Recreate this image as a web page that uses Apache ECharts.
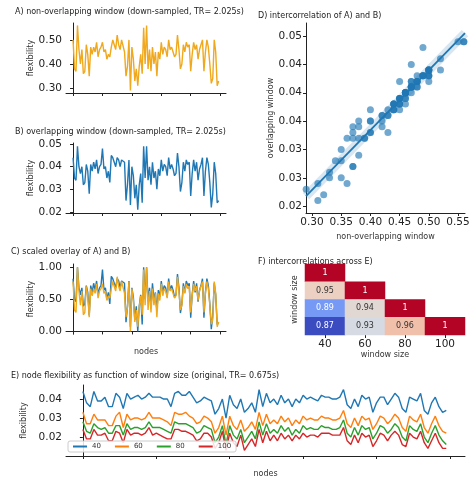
<!DOCTYPE html>
<html>
<head>
<meta charset="utf-8">
<script src="https://cdn.jsdelivr.net/npm/echarts@6/dist/echarts.min.js"></script>
<style>
  html, body { margin: 0; padding: 0; background: #fff; }
  #chart { width: 474px; height: 477px; }
</style>
</head>
<body>
<div id="chart"></div>
<script>
// panel A: non-overlapping window flexibility per node
const nonOverlap = [
  0.50,0.38,0.37,0.56,0.46,0.40,0.46,0.36,0.37,0.48,0.44,0.35,0.47,0.44,0.47,0.45,0.49,0.43,0.46,0.47,
  0.49,0.45,0.46,0.42,0.44,0.43,0.47,0.50,0.48,0.46,0.52,0.48,0.46,0.50,0.50,0.45,0.35,0.39,0.50,0.29,
  0.47,0.42,0.33,0.38,0.31,0.39,0.44,0.36,0.55,0.40,0.56,0.38,0.46,0.37,0.47,0.40,0.45,0.35,0.45,0.42,
  0.49,0.44,0.47,0.46,0.43,0.50,0.46,0.47,0.45,0.43,0.44,0.52,0.46,0.38,0.40,0.48,0.45,0.49,0.47,0.48,
  0.37,0.44,0.49,0.46,0.48,0.42,0.46,0.48,0.50,0.37,0.45,0.50,0.47,0.40,0.32,0.34,0.50,0.45,0.31,0.33
];
// panel B: overlapping window
const overlap = [
  0.044,0.035,0.034,0.049,0.040,0.037,0.040,0.032,0.033,0.041,0.038,0.028,0.041,0.038,0.042,0.039,0.043,0.037,0.040,0.041,
  0.048,0.039,0.040,0.035,0.038,0.033,0.045,0.044,0.042,0.040,0.044,0.043,0.040,0.043,0.043,0.042,0.025,0.032,0.043,0.023,
  0.040,0.036,0.026,0.032,0.021,0.032,0.037,0.024,0.049,0.035,0.049,0.034,0.040,0.032,0.042,0.035,0.038,0.030,0.039,0.036,
  0.043,0.038,0.041,0.040,0.036,0.044,0.039,0.041,0.039,0.036,0.037,0.046,0.040,0.029,0.033,0.042,0.038,0.043,0.041,0.042,
  0.027,0.037,0.043,0.038,0.042,0.034,0.039,0.041,0.044,0.027,0.038,0.044,0.041,0.033,0.022,0.028,0.042,0.037,0.024,0.025
];
// panel E: flexibility by window size
const win40 = [
  0.044,0.038,0.036,0.044,0.039,0.039,0.041,0.036,0.036,0.043,0.041,0.035,0.043,0.040,0.041,0.042,0.040,0.041,0.043,0.041,
  0.041,0.041,0.040,0.040,0.036,0.043,0.044,0.042,0.042,0.044,0.041,0.038,0.039,0.041,0.040,0.039,0.032,0.035,0.040,0.030,
  0.042,0.037,0.035,0.040,0.033,0.035,0.038,0.033,0.045,0.036,0.043,0.038,0.040,0.037,0.042,0.038,0.040,0.036,0.040,0.038,
  0.042,0.040,0.041,0.040,0.039,0.042,0.041,0.041,0.040,0.040,0.041,0.045,0.037,0.035,0.040,0.036,0.042,0.040,0.041,0.033,
  0.038,0.041,0.041,0.037,0.040,0.043,0.041,0.035,0.033,0.041,0.040,0.039,0.043,0.034,0.032,0.038,0.041,0.036,0.033,0.034
];
const win60 = [
  0.033,0.027,0.027,0.032,0.029,0.029,0.029,0.026,0.026,0.031,0.033,0.025,0.032,0.029,0.030,0.030,0.029,0.030,0.033,0.030,
  0.030,0.030,0.029,0.028,0.026,0.033,0.032,0.032,0.033,0.031,0.030,0.027,0.028,0.031,0.030,0.028,0.022,0.025,0.031,0.021,
  0.031,0.026,0.024,0.029,0.023,0.025,0.028,0.024,0.033,0.026,0.032,0.027,0.029,0.027,0.031,0.028,0.030,0.026,0.029,0.027,
  0.031,0.029,0.030,0.029,0.029,0.031,0.030,0.030,0.029,0.029,0.030,0.034,0.027,0.025,0.030,0.026,0.031,0.029,0.030,0.024,
  0.027,0.031,0.030,0.027,0.029,0.032,0.030,0.025,0.023,0.031,0.029,0.028,0.032,0.025,0.022,0.027,0.031,0.026,0.023,0.022
];
const win80 = [
  0.028,0.023,0.022,0.027,0.025,0.024,0.025,0.022,0.022,0.026,0.026,0.021,0.027,0.024,0.025,0.025,0.024,0.025,0.028,0.025,
  0.025,0.025,0.024,0.023,0.022,0.028,0.027,0.027,0.027,0.026,0.025,0.022,0.023,0.026,0.025,0.024,0.017,0.020,0.026,0.016,
  0.026,0.021,0.019,0.024,0.017,0.020,0.023,0.019,0.028,0.021,0.027,0.022,0.024,0.022,0.026,0.023,0.025,0.021,0.024,0.022,
  0.026,0.024,0.025,0.024,0.024,0.026,0.025,0.025,0.024,0.024,0.025,0.029,0.022,0.020,0.025,0.021,0.026,0.024,0.025,0.019,
  0.022,0.026,0.025,0.022,0.024,0.027,0.025,0.020,0.018,0.026,0.024,0.023,0.027,0.020,0.017,0.022,0.026,0.021,0.018,0.016
];
const win100 = [
  0.024,0.019,0.019,0.024,0.021,0.021,0.022,0.018,0.018,0.023,0.022,0.017,0.024,0.021,0.022,0.022,0.021,0.022,0.025,0.021,
  0.022,0.021,0.020,0.019,0.019,0.024,0.024,0.023,0.023,0.022,0.021,0.018,0.019,0.022,0.022,0.020,0.014,0.017,0.023,0.013,
  0.022,0.017,0.015,0.021,0.013,0.016,0.019,0.015,0.024,0.017,0.023,0.018,0.021,0.018,0.022,0.019,0.021,0.018,0.021,0.019,
  0.022,0.020,0.021,0.021,0.020,0.022,0.022,0.022,0.021,0.021,0.021,0.025,0.018,0.016,0.021,0.017,0.022,0.020,0.021,0.015,
  0.018,0.022,0.021,0.018,0.021,0.023,0.021,0.016,0.015,0.022,0.020,0.019,0.023,0.017,0.014,0.018,0.022,0.017,0.014,0.014
];
// panel F: correlation matrix (lower triangle)
const windowSizes = ['40', '60', '80', '100'];
const corrCells = [
  [0, 0, 1],
  [0, 1, 0.95], [1, 1, 1],
  [0, 2, 0.89], [1, 2, 0.94], [2, 2, 1],
  [0, 3, 0.87], [1, 3, 0.93], [2, 3, 0.96], [3, 3, 1]
];
// tick positions
const nodeTicks = [0, 20, 40, 60, 80, 100];
const ticksA = [0.30, 0.40, 0.50];
const ticksB = [0.02, 0.03, 0.04, 0.05];
const ticksC = [0, 0.5, 1];
const ticksDx = [0.30, 0.35, 0.40, 0.45, 0.50, 0.55];
const ticksDy = [0.02, 0.025, 0.03, 0.035, 0.04, 0.045, 0.05];
const labelsDy = ['0.02', '0.03', '0.03', '0.04', '0.04', '0.04', '0.05'];
const ticksE = [0.02, 0.03, 0.04];

const ORANGE = '#f0a81c', BLUE = '#1f77b4';
const FONT = 'DejaVu Sans';

const idx = arr => arr.map((v, i) => [i, v]);
const scale01 = arr => {
  const lo = Math.min(...arr), hi = Math.max(...arr);
  return arr.map(v => (v - lo) / (hi - lo));
};

// regression for panel D
const n = nonOverlap.length;
const mx = nonOverlap.reduce((a, b) => a + b) / n;
const my = overlap.reduce((a, b) => a + b) / n;
let sxy = 0, sxx = 0;
for (let i = 0; i < n; i++) { sxy += (nonOverlap[i] - mx) * (overlap[i] - my); sxx += (nonOverlap[i] - mx) ** 2; }
const slope = sxy / sxx, icpt = my - slope * mx;
const fitLine = [0.2897, 0.562].map(x => [x, icpt + slope * x]);

const axisLine = { show: true, lineStyle: { color: '#222', width: 1 } };
const axisTick = { show: true, length: 3, lineStyle: { color: '#222' } };
const tickLbl = { color: '#222', fontFamily: FONT, fontSize: 10.5, margin: 4 };
const nameSty = { color: '#333', fontFamily: FONT, fontSize: 8 };

function nodeAxis(gi, min, max, name) {
  return {
    type: 'value', gridIndex: gi, min, max,
    axisLine, splitLine: { show: false },
    axisTick: Object.assign({}, axisTick, { customValues: nodeTicks }),
    axisLabel: { show: false },
    name: name || '', nameLocation: 'middle', nameGap: 14, nameTextStyle: nameSty
  };
}
function valAxis(gi, min, max, ticks, fmt, name, gap) {
  return {
    type: 'value', gridIndex: gi, min, max,
    axisLine, splitLine: { show: false },
    axisTick: Object.assign({}, axisTick, { customValues: ticks }),
    axisLabel: Object.assign({}, tickLbl, { customValues: ticks, formatter: fmt }),
    name: name || 'flexibility', nameLocation: 'middle', nameRotate: 90, nameGap: gap || 30, nameTextStyle: nameSty
  };
}
const grid = (left, top, width, height) => ({ left, top, width, height, containLabel: false, outerBoundsMode: 'none' });
const title = (text, left, top) => ({ text, left, top, textStyle: { fontFamily: FONT, fontSize: 8, fontWeight: 'normal', color: '#222' } });

const line = (xi, data, color, name) => ({
  type: 'line', name, xAxisIndex: xi, yAxisIndex: xi, data, showSymbol: false,
  lineStyle: { color, width: 1.4 }, itemStyle: { color }, silent: true
});
const f2 = v => v.toFixed(2);

const option = {
  animation: false,
  backgroundColor: '#fff',
  title: [
    title('A) non-overlapping window (down-sampled, TR= 2.025s)', 10, 3),
    title('B) overlapping window (down-sampled, TR= 2.025s)', 10, 123),
    title('C) scaled overlay of A) and B)', 6, 243),
    title('D) intercorrelation of A) and B)', 253, 7),
    title('F) intercorrelations across E)', 253, 253),
    title('E) node flexibility as function of window size (original, TR= 0.675s)', 6, 367)
  ],
  grid: [
    grid(66, 23, 160, 70),
    grid(66, 143, 160, 70),
    grid(66, 264, 160, 70),
    grid(306, 23, 159, 190),
    grid(305, 264, 160, 71),
    grid(66, 385, 399, 71)
  ],
  xAxis: [
    nodeAxis(0, -4.8, 104),
    nodeAxis(1, -4.8, 104),
    nodeAxis(2, -4.8, 104, 'nodes'),
    {
      type: 'value', gridIndex: 3, min: 0.2897, max: 0.562,
      axisLine, splitLine: { show: false },
      axisTick: Object.assign({}, axisTick, { customValues: ticksDx }),
      axisLabel: Object.assign({}, tickLbl, { customValues: ticksDx, formatter: f2 }),
      name: 'non-overlapping window', nameLocation: 'middle', nameGap: 20, nameTextStyle: nameSty
    },
    {
      type: 'category', gridIndex: 4, data: windowSizes,
      axisLine: { show: false }, axisTick: { show: true, length: 3, alignWithLabel: true, lineStyle: { color: '#222' } },
      axisLabel: tickLbl,
      name: 'window size', nameLocation: 'middle', nameGap: 15, nameTextStyle: nameSty
    },
    nodeAxis(5, -4.6, 104.1, 'nodes')
  ],
  yAxis: [
    valAxis(0, 0.28, 0.57, ticksA, f2),
    valAxis(1, 0.0195, 0.0505, ticksB, f2),
    valAxis(2, -0.04, 1.05, ticksC, f2),
    valAxis(3, 0.0188, 0.0523, ticksDy, v => labelsDy[ticksDy.findIndex(t => Math.abs(t - v) < 1e-6)], 'overlapping window', 30),
    {
      type: 'category', gridIndex: 4, data: windowSizes, inverse: true,
      axisLine: { show: false }, axisTick: { show: false }, axisLabel: { show: false },
      name: 'window size', nameLocation: 'middle', nameRotate: 90, nameGap: 6, nameTextStyle: nameSty
    },
    valAxis(5, 0.010, 0.0474, ticksE, f2)
  ],
  visualMap: {
    show: false, seriesIndex: 6, min: 0.87, max: 1, dimension: 2,
    inRange: { color: ['#3b4cc0', '#7b9ff9', '#c0d4f5', '#dddcdc', '#f2cbb7', '#ee8468', '#b40426'] }
  },
  legend: {
    data: ['40', '60', '80', '100'], left: 68, top: 441, orient: 'horizontal',
    itemWidth: 14, itemHeight: 2, itemGap: 14, icon: 'rect',
    textStyle: { fontFamily: FONT, fontSize: 7, color: '#333' },
    backgroundColor: 'rgba(255,255,255,0.85)', borderColor: '#ccc', borderWidth: 1, borderRadius: 2, padding: [2, 5]
  },
  series: [
    line(0, idx(nonOverlap), ORANGE),
    line(1, idx(overlap), BLUE),
    line(2, idx(scale01(overlap)), BLUE),
    line(2, idx(scale01(nonOverlap)), ORANGE),
    {
      type: 'line', xAxisIndex: 3, yAxisIndex: 3, data: fitLine, showSymbol: false, silent: true,
      lineStyle: { color: 'rgba(31,119,180,0.18)', width: 9 }
    },
    {
      type: 'scatter', xAxisIndex: 3, yAxisIndex: 3, symbolSize: 7,
      data: nonOverlap.map((x, i) => [x, overlap[i]]),
      itemStyle: { color: 'rgba(31,119,180,0.8)' }
    },
    {
      type: 'heatmap', xAxisIndex: 4, yAxisIndex: 4,
      data: corrCells.map(c => ({
        value: c,
        label: { color: (c[2] >= 0.98 || c[2] <= 0.9) ? '#fff' : '#333' }
      })),
      label: { show: true, fontFamily: FONT, fontSize: 8, formatter: p => String(p.value[2]) },
      itemStyle: { borderWidth: 0 }
    },
    Object.assign(line(5, idx(win40), '#1f77b4', '40')),
    Object.assign(line(5, idx(win60), '#ff7f0e', '60')),
    Object.assign(line(5, idx(win80), '#2ca02c', '80')),
    Object.assign(line(5, idx(win100), '#d62728', '100')),
    {
      type: 'line', xAxisIndex: 3, yAxisIndex: 3, data: fitLine, showSymbol: false, silent: true,
      lineStyle: { color: BLUE, width: 1.8 }
    }
  ]
};

const chart = echarts.init(document.getElementById('chart'), null, { renderer: 'canvas' });
chart.setOption(option);
</script>
</body>
</html>
